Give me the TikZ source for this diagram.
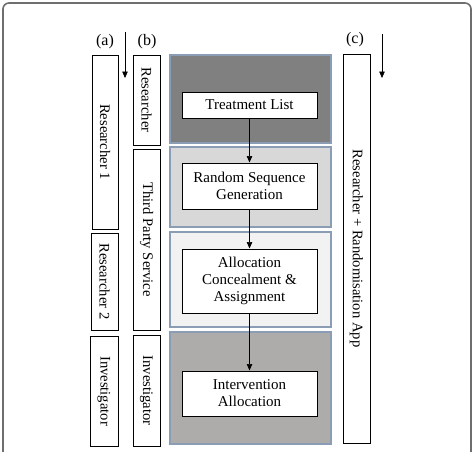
\documentclass[tikz,border=0pt]{standalone}
\usepackage{fontspec}
\setmainfont{Liberation Serif}
\usetikzlibrary{arrows.meta}
\definecolor{frameg}{HTML}{6E6E6E}
\definecolor{panelb}{HTML}{8A9DB5}
\definecolor{pone}{HTML}{808080}
\definecolor{ptwo}{HTML}{D8D8D8}
\definecolor{pthree}{HTML}{F2F2F2}
\definecolor{pfour}{HTML}{AEABAB}
\tikzset{
  lane/.style={draw=black, line width=1pt, fill=white, rotate=-90, inner sep=0pt,
    font=\fontsize{14.6}{16}\selectfont},
  panel/.style={draw=panelb, line width=1.3pt, minimum width=161pt, inner sep=0pt},
  stepbox/.style={draw=black, line width=1pt, fill=white, minimum width=135pt, inner sep=0pt,
    align=center, font=\fontsize{15}{17}\selectfont},
  flow/.style={draw=black, line width=0.7pt, -{Triangle[width=5.5pt,length=6.5pt]}},
  lbl/.style={inner sep=0pt, font=\fontsize{16}{18}\selectfont}
}
\begin{document}
\begin{tikzpicture}[x=1pt,y=-1pt]
\useasboundingbox (0,0) rectangle (474,451);
\draw[frameg, line width=1.6pt, rounded corners=6pt] (3,3) rectangle (471,470);
% column (a)
\node[lbl] (la) at (105,42) {(a)};
\coordinate (atop) at (125,32);
\coordinate (abot) at (125,78);
\draw[flow] (atop) -- (abot);
\node[lane, minimum width=174pt, minimum height=26pt] (r1) at (105,142) {Researcher 1};
\node[lane, minimum width=97pt, minimum height=27pt] (r2) at (104.5,281.5) {Researcher 2};
\node[lane, minimum width=110pt, minimum height=28pt] (ia) at (104,391) {Investigator};
% column (b)
\node[lbl] (lb) at (147,42) {(b)};
\node[lane, minimum width=90pt, minimum height=27pt] (rb) at (146.5,100) {Researcher};
\node[lane, minimum width=181pt, minimum height=27pt] (tp) at (146.5,239.5) {Third Party Service};
\node[lane, minimum width=111pt, minimum height=27pt] (ib) at (146.5,390.5) {Investigator};
% panels
\node[panel, fill=pone, minimum height=88pt] (p1) at (250.5,99) {};
\node[panel, fill=ptwo, minimum height=80pt] (p2) at (250.5,187) {};
\node[panel, fill=pthree, minimum height=95pt] (p3) at (250.5,279.5) {};
\node[panel, fill=pfour, minimum height=112pt] (p4) at (250.5,388) {};
% steps
\node[stepbox, minimum height=26pt] (tl) at (249.5,105) {Treatment List};
\node[stepbox, minimum height=46pt] (rs) at (249.5,186) {Random Sequence\\Generation};
\node[stepbox, minimum height=64pt] (ac) at (249.5,281) {Allocation\\Concealment \&\\Assignment};
\node[stepbox, minimum height=45pt] (iv) at (249.5,393.5) {Intervention\\Allocation};
\draw[flow] (tl) -- (rs);
\draw[flow] (rs) -- (ac);
\draw[flow] (ac) -- (iv);
% column (c)
\node[lbl] (lc) at (355,40) {(c)};
\node[lane, minimum width=389pt, minimum height=27pt] (rc) at (356.5,248.5) {Researcher + Randomisation App};
\coordinate (ctop) at (382,34);
\coordinate (cbot) at (382,78);
\draw[flow] (ctop) -- (cbot);
\end{tikzpicture}
\end{document}
